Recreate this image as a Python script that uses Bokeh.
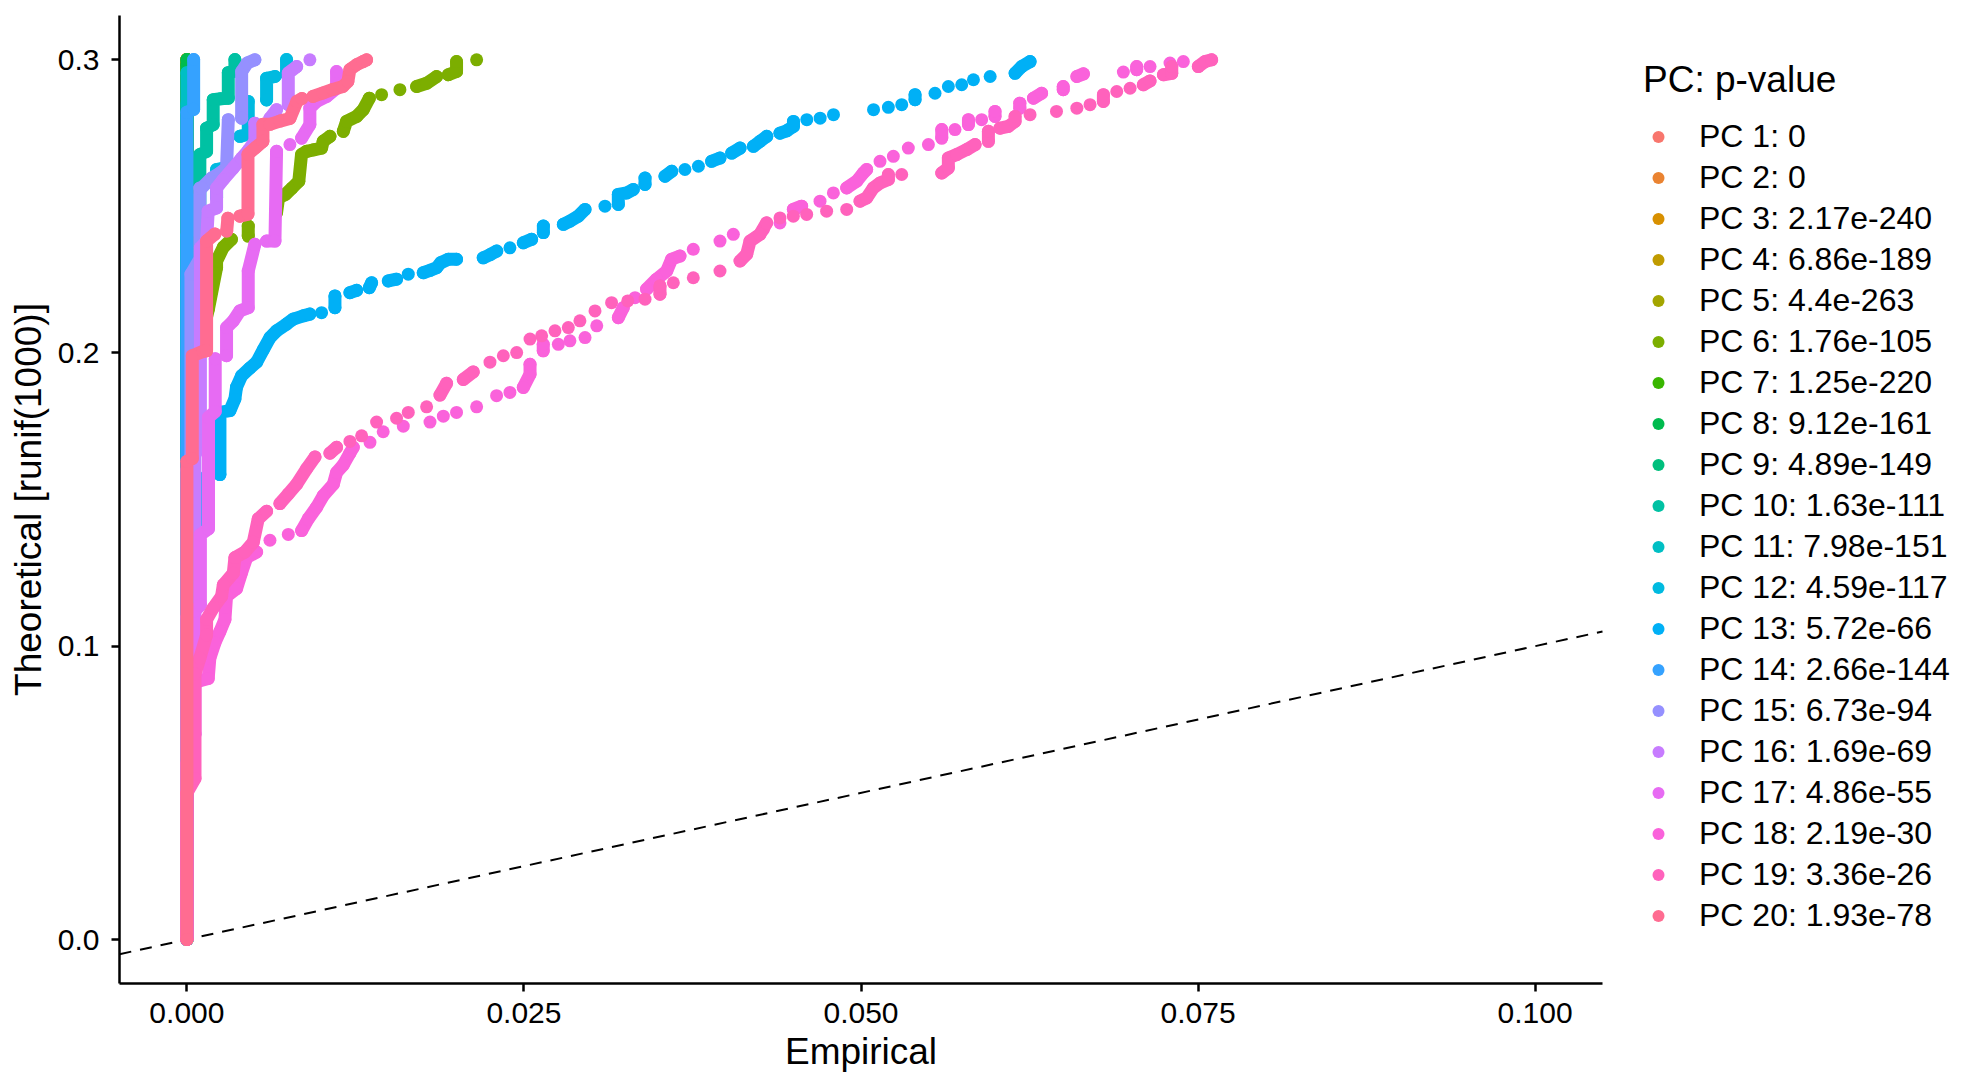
from bokeh.plotting import figure
from bokeh.models import FixedTicker, PrintfTickFormatter, Legend, LegendItem, Title
from bokeh.embed import file_html
from bokeh.resources import INLINE

FONT = "Liberation Sans"

# ---------------- data ----------------
X_LIM = (-0.005, 0.105)
Y_LIM = (-0.015, 0.315)
X_TICKS = [0.0, 0.025, 0.05, 0.075, 0.1]
Y_TICKS = [0.0, 0.1, 0.2, 0.3]
ABLINE_SLOPE = 1.0
ABLINE_INTERCEPT = 0.0

PC_LABELS = ["PC 1: 0", "PC 2: 0", "PC 3: 2.17e-240", "PC 4: 6.86e-189", "PC 5: 4.4e-263",
             "PC 6: 1.76e-105", "PC 7: 1.25e-220", "PC 8: 9.12e-161", "PC 9: 4.89e-149",
             "PC 10: 1.63e-111", "PC 11: 7.98e-151", "PC 12: 4.59e-117", "PC 13: 5.72e-66",
             "PC 14: 2.66e-144", "PC 15: 6.73e-94", "PC 16: 1.69e-69", "PC 17: 4.86e-55",
             "PC 18: 2.19e-30", "PC 19: 3.36e-26", "PC 20: 1.93e-78"]

PC_COLORS = ["#F8766D", "#EA8331", "#D89000", "#C09B00", "#A3A500", "#7CAE00", "#39B600",
             "#00BB4E", "#00BF7D", "#00C1A3", "#00BFC4", "#00BAE0", "#00B0F6", "#35A2FF",
             "#9590FF", "#C77CFF", "#E76BF3", "#FA62DB", "#FF62BC", "#FF6C91"]

# (empirical, theoretical) points of each PC
PC1 = [(0.0, 0.0), (0.0, 0.3)]
PC2 = [(0.0, 0.0), (0.0, 0.3)]
PC3 = [(0.0, 0.0), (0.0, 0.3)]
PC4 = [(0.0, 0.0), (0.0, 0.3)]
PC5 = [(0.0, 0.0), (0.0, 0.3)]
PC6 = [(0.0, 0.0), (0.0, 0.19), (0.0008, 0.20), (0.0016, 0.215), (0.0022, 0.229), (0.0022, 0.2313),
       (0.0027, 0.236), (0.0033, 0.2387), (0.00455, 0.2398), (0.00455, 0.2432), (0.00665, 0.2478),
       (0.0068, 0.2528), (0.0073, 0.254), (0.0078, 0.2562), (0.0083, 0.2585), (0.0085, 0.2676),
       (0.00888, 0.2687), (0.0094, 0.2692), (0.00999, 0.2698), (0.01011, 0.2721), (0.01061, 0.2738),
       (0.0116, 0.2755), (0.01184, 0.2789), (0.01259, 0.2806), (0.01308, 0.2829), (0.01353, 0.2868),
       (0.01444, 0.2880), (0.0158, 0.2897), (0.01704, 0.2908), (0.01778, 0.2919), (0.01852, 0.2942),
       (0.01939, 0.2948), (0.0200, 0.2959), (0.0200, 0.2993), (0.02149, 0.2999)]
PC7 = [(0.0, 0.0), (0.0, 0.298)]
PC8 = [(0.0, 0.0), (0.0, 0.3)]
PC9 = [(0.0, 0.0), (0.0, 0.285)]
PC10 = [(0.0, 0.0), (0.0, 0.24), (0.00096, 0.245), (0.00096, 0.2676), (0.00146, 0.2687),
        (0.00146, 0.2766), (0.00195, 0.2778), (0.00195, 0.2863), (0.0025, 0.2866), (0.00307, 0.2868),
        (0.00307, 0.2955), (0.00356, 0.296), (0.00356, 0.3)]
PC11 = [(0.0, 0.0), (0.0, 0.2955)]
PC12 = [(0.0, 0.0), (0.0, 0.24), (0.0005, 0.245), (0.0005, 0.252), (0.0022, 0.253), (0.0022, 0.2625),
        (0.0027, 0.263), (0.00393, 0.2738), (0.00455, 0.2745), (0.00455, 0.2857), (0.00591, 0.2862),
        (0.00591, 0.2936), (0.00653, 0.2942), (0.00739, 0.295), (0.00739, 0.3)]
PC13 = [(0.0, 0.0), (0.0, 0.12), (0.0007, 0.13), (0.0007, 0.158), (0.0016, 0.1585), (0.00245, 0.1585),
        (0.00245, 0.1797), (0.00319, 0.1803), (0.00356, 0.1843), (0.00368, 0.1883), (0.00406, 0.1922),
        (0.00467, 0.1948), (0.00517, 0.1968), (0.00566, 0.2010), (0.00616, 0.2052), (0.00665, 0.2075),
        (0.00739, 0.2098), (0.00789, 0.2115), (0.00863, 0.2126), (0.00912, 0.2132), (0.00999, 0.2137),
        (0.01098, 0.2154), (0.01098, 0.2194), (0.01209, 0.2205), (0.01259, 0.2213), (0.01353, 0.2222),
        (0.0137, 0.2239), (0.01494, 0.2245), (0.01555, 0.2251), (0.01642, 0.2268), (0.01753, 0.2273),
        (0.01803, 0.2281), (0.01852, 0.2290), (0.01882, 0.2307), (0.01939, 0.2319), (0.0200, 0.2319),
        (0.02198, 0.2324), (0.0225, 0.2335), (0.02298, 0.2347), (0.02396, 0.2358), (0.02495, 0.2375),
        (0.02557, 0.2387), (0.02644, 0.2410), (0.02644, 0.2432), (0.02792, 0.2438), (0.02841, 0.2449),
        (0.02903, 0.2466), (0.02953, 0.2489), (0.03101, 0.2500), (0.032, 0.2506), (0.032, 0.2540),
        (0.03262, 0.2545), (0.03311, 0.2557), (0.03398, 0.2574), (0.03398, 0.2596), (0.03546, 0.2602),
        (0.03596, 0.2619), (0.03694, 0.2625), (0.03794, 0.2636), (0.03892, 0.2653), (0.03954, 0.2664),
        (0.04041, 0.2681), (0.04103, 0.2698), (0.04202, 0.2704), (0.04251, 0.2721), (0.04301, 0.2738),
        (0.04399, 0.2749), (0.04449, 0.2757), (0.04499, 0.2772), (0.04499, 0.2789), (0.04598, 0.2795),
        (0.04697, 0.2800), (0.04796, 0.2812), (0.05093, 0.2829), (0.05203, 0.2837), (0.05302, 0.2846),
        (0.05401, 0.2863), (0.05401, 0.2880), (0.05549, 0.2885), (0.05648, 0.2908), (0.05747, 0.2914),
        (0.05834, 0.2931), (0.05958, 0.2942), (0.06143, 0.2953), (0.06192, 0.2976), (0.06254, 0.2993)]
PC14 = [(0.0, 0.0), (0.0, 0.282), (0.0005, 0.283), (0.0005, 0.3)]
PC15 = [(0.0, 0.0), (0.0, 0.16), (0.0003, 0.165), (0.0003, 0.2268), (0.00096, 0.232), (0.00096, 0.2562),
        (0.00109, 0.2562), (0.00183, 0.2596), (0.00245, 0.2613), (0.00294, 0.263), (0.00307, 0.2795),
        (0.00406, 0.28), (0.00406, 0.2959), (0.00448, 0.2988), (0.00504, 0.2999)]
PC16 = [(0.0, 0.0), (0.0, 0.11), (0.0006, 0.115), (0.0006, 0.165), (0.001, 0.17), (0.001, 0.2358),
        (0.00146, 0.2381), (0.00158, 0.2483), (0.0022, 0.2494), (0.0022, 0.2562), (0.0027, 0.2591),
        (0.00344, 0.263), (0.00406, 0.2664), (0.00455, 0.2690), (0.00504, 0.2721), (0.00504, 0.2783),
        (0.00616, 0.28), (0.00665, 0.2829), (0.00752, 0.2846), (0.00752, 0.2954), (0.00814, 0.2976),
        (0.00912, 0.2999)]
PC17 = [(0.0, 0.0), (0.0, 0.06), (0.0006, 0.07), (0.0006, 0.112), (0.001, 0.114), (0.001, 0.138),
        (0.0016, 0.14), (0.0016, 0.178), (0.0021, 0.18), (0.0021, 0.198), (0.00294, 0.199),
        (0.00294, 0.2086), (0.00344, 0.2109), (0.00393, 0.2143), (0.00455, 0.2154), (0.00455, 0.2279),
        (0.00504, 0.237), (0.00591, 0.2381), (0.00653, 0.2381), (0.00665, 0.2687), (0.00764, 0.271),
        (0.00851, 0.2732), (0.00912, 0.2778), (0.00912, 0.2834), (0.00962, 0.2857), (0.01036, 0.2874),
        (0.0111, 0.2902), (0.0111, 0.2959)]
PC18 = [(0.0, 0.0), (0.0, 0.05), (0.00047, 0.0564), (0.00047, 0.0880), (0.00084, 0.0880), (0.00158, 0.0890),
        (0.0017, 0.0959), (0.00208, 0.1012), (0.00245, 0.1050), (0.00282, 0.1091), (0.00294, 0.1170),
        (0.00368, 0.1196), (0.00405, 0.1250), (0.00443, 0.1302), (0.00517, 0.1321), (0.00616, 0.1361),
        (0.00752, 0.1381), (0.00851, 0.1394), (0.009, 0.1434), (0.00962, 0.1474), (0.01011, 0.1513),
        (0.01086, 0.1552), (0.0111, 0.1592), (0.0116, 0.1618), (0.01209, 0.1658), (0.01234, 0.1678),
        (0.01358, 0.1695), (0.01456, 0.1731), (0.01605, 0.1750), (0.01803, 0.1764), (0.01902, 0.1784),
        (0.0200, 0.1797), (0.02149, 0.1816), (0.02297, 0.1854), (0.02396, 0.1865), (0.02495, 0.1882),
        (0.02545, 0.1927), (0.02545, 0.1961), (0.02643, 0.2007), (0.02643, 0.2029), (0.02755, 0.2029),
        (0.02841, 0.2041), (0.02953, 0.2052), (0.0304, 0.2092), (0.032, 0.2120), (0.03237, 0.2154),
        (0.03324, 0.2188), (0.0341, 0.2217), (0.03484, 0.2251), (0.03559, 0.2279), (0.03595, 0.2319),
        (0.03657, 0.2330), (0.03756, 0.2353), (0.03954, 0.2381), (0.04053, 0.2404), (0.04276, 0.2421),
        (0.04399, 0.2443), (0.04498, 0.2489), (0.0456, 0.2500), (0.04696, 0.2517), (0.04795, 0.2545),
        (0.04894, 0.2562), (0.04968, 0.2585), (0.05017, 0.2613), (0.05042, 0.2625), (0.05141, 0.2653),
        (0.0524, 0.2670), (0.05351, 0.2698), (0.055, 0.2710), (0.05599, 0.2732), (0.05599, 0.2761),
        (0.05697, 0.2761), (0.05797, 0.2778), (0.05797, 0.2795), (0.05895, 0.2795), (0.05994, 0.2806),
        (0.05994, 0.2823), (0.06178, 0.2834), (0.06178, 0.2851), (0.06279, 0.2868), (0.0634, 0.2885),
        (0.065, 0.2897), (0.065, 0.2908), (0.06601, 0.2942), (0.0665, 0.2951), (0.06946, 0.2957),
        (0.07045, 0.2965), (0.07045, 0.2976), (0.07144, 0.2976), (0.07292, 0.2988), (0.07391, 0.2993)]
PC19 = [(0.0, 0.0), (0.0, 0.05), (0.0006, 0.0549), (0.0006, 0.0906), (0.00096, 0.0959), (0.00146, 0.1038),
        (0.00146, 0.1091), (0.00195, 0.1130), (0.00257, 0.1170), (0.0027, 0.1209), (0.00344, 0.1249),
        (0.00356, 0.1302), (0.0043, 0.1321), (0.00492, 0.1354), (0.00529, 0.1434), (0.00591, 0.1460),
        (0.0069, 0.1486), (0.00752, 0.1519), (0.00814, 0.1552), (0.00888, 0.1605), (0.0095, 0.1645),
        (0.01061, 0.1658), (0.0111, 0.1678), (0.01209, 0.1698), (0.01296, 0.1717), (0.01407, 0.1764),
        (0.01555, 0.1777), (0.01642, 0.1797), (0.01778, 0.1816), (0.01877, 0.1856), (0.01926, 0.1896),
        (0.0205, 0.1909), (0.02124, 0.1935), (0.02248, 0.1968), (0.02347, 0.1990), (0.02446, 0.2001),
        (0.02545, 0.2047), (0.02631, 0.2058), (0.0273, 0.2075), (0.02829, 0.2086), (0.02915, 0.2109),
        (0.03027, 0.2143), (0.0315, 0.2171), (0.0327, 0.2177), (0.03398, 0.2183), (0.03509, 0.2200),
        (0.03509, 0.2228), (0.03608, 0.2239), (0.03756, 0.2256), (0.03954, 0.2279), (0.04103, 0.2313),
        (0.04152, 0.2336), (0.04177, 0.2381), (0.0425, 0.2404), (0.043, 0.2443), (0.04399, 0.2460),
        (0.04498, 0.2466), (0.04597, 0.2472), (0.04745, 0.2483), (0.04894, 0.2489), (0.04993, 0.2517),
        (0.05042, 0.2528), (0.05091, 0.2562), (0.05141, 0.2579), (0.05203, 0.2591), (0.05203, 0.2608),
        (0.05302, 0.2608), (0.05599, 0.2613), (0.05648, 0.2630), (0.05648, 0.2664), (0.0571, 0.2676),
        (0.05784, 0.2693), (0.05846, 0.2710), (0.05945, 0.2721), (0.05945, 0.2755), (0.06031, 0.2766),
        (0.06093, 0.2772), (0.06143, 0.2789), (0.06143, 0.2806), (0.06254, 0.2812), (0.0645, 0.2823),
        (0.06601, 0.2834), (0.06699, 0.2846), (0.06798, 0.2857), (0.06798, 0.2880), (0.06897, 0.2891),
        (0.06996, 0.2902), (0.07094, 0.2914), (0.07144, 0.2927), (0.07243, 0.2948), (0.07305, 0.2953),
        (0.07305, 0.2976), (0.07502, 0.2976), (0.07552, 0.2993), (0.07601, 0.2999)]
PC20 = [(0.0, 0.0), (0.0, 0.163), (0.0004, 0.164), (0.0004, 0.199), (0.0012, 0.2005), (0.00146, 0.2007),
        (0.00146, 0.2381), (0.00208, 0.2405), (0.00295, 0.2415), (0.00304, 0.2459), (0.00393, 0.2466),
        (0.00453, 0.2473), (0.00453, 0.2677), (0.0051, 0.270), (0.00564, 0.2721), (0.00564, 0.2779),
        (0.00616, 0.2779), (0.0069, 0.279), (0.00764, 0.2799), (0.00816, 0.2857), (0.00853, 0.2867),
        (0.00935, 0.2874), (0.0101, 0.2886), (0.01083, 0.2898), (0.01157, 0.2908), (0.01194, 0.2925),
        (0.01209, 0.2966), (0.01261, 0.2983), (0.01306, 0.2993), (0.01333, 0.2999)]

SERIES = [PC1, PC2, PC3, PC4, PC5, PC6, PC7, PC8, PC9, PC10,
          PC11, PC12, PC13, PC14, PC15, PC16, PC17, PC18, PC19, PC20]

# ---------------- layout ----------------
W, H = 1970, 1074
LEFT, TOP, BOTTOM = 119, 15, 90
PANEL_W = 1483                      # width of the ggplot panel (x from X_LIM[0] to X_LIM[1])
px_per_x = PANEL_W / (X_LIM[1] - X_LIM[0])
x_end = X_LIM[0] + (W - LEFT) / px_per_x   # frame continues to the right edge for the legend

p = figure(width=W, height=H, x_range=(X_LIM[0], x_end), y_range=Y_LIM,
           output_backend="svg", toolbar_location=None,
           min_border_left=LEFT, min_border_right=0, min_border_top=TOP, min_border_bottom=BOTTOM)
p.xgrid.visible = False
p.ygrid.visible = False
p.outline_line_color = None
p.background_fill_color = "white"
p.border_fill_color = "white"

for ax in (p.xaxis[0], p.yaxis[0]):
    ax.axis_line_width = 2.5
    ax.axis_line_color = "black"
    ax.major_tick_line_width = 2.5
    ax.major_tick_line_color = "black"
    ax.major_tick_out = 8
    ax.major_tick_in = 0
    ax.minor_tick_out = 0
    ax.minor_tick_in = 0
    ax.major_label_text_font = FONT
    ax.major_label_text_font_size = "30px"
    ax.major_label_text_color = "black"
    ax.axis_label_text_font = FONT
    ax.axis_label_text_font_size = "37px"
    ax.axis_label_text_font_style = "normal"
    ax.axis_label_text_color = "black"

p.xaxis.bounds = X_LIM
p.xaxis.ticker = FixedTicker(ticks=X_TICKS)
p.yaxis.ticker = FixedTicker(ticks=Y_TICKS)
p.xaxis.formatter = PrintfTickFormatter(format="%.3f")
p.yaxis.formatter = PrintfTickFormatter(format="%.1f")
p.yaxis.axis_label = "Theoretical [runif(1000)]"
p.xaxis.major_label_standoff = 11
p.yaxis.major_label_standoff = 12
p.yaxis.axis_label_standoff = 6

# x-axis title, centred under the panel (not under the wider frame that also holds the legend)
XTITLE_SIZE = 37
xtitle_w = 4.111 * XTITLE_SIZE            # width of "Empirical" in Liberation Sans
xtitle = Title(text="Empirical", align="left", offset=PANEL_W / 2 - xtitle_w / 2,
               text_font=FONT, text_font_size=f"{XTITLE_SIZE}px", text_font_style="normal",
               text_color="black", standoff=6)
p.add_layout(xtitle, "below")

# dashed y = x reference line across the panel
ab_x = list(X_LIM)
ab_y = [ABLINE_INTERCEPT + ABLINE_SLOPE * v for v in ab_x]
p.line(ab_x, ab_y, line_color="black", line_width=2, line_dash="12 9")

GAP = 0.0008  # consecutive points closer than this horizontally overlap into a continuous stroke
DOT = 13

items = []
for pts, col, lab in zip(SERIES, PC_COLORS, PC_LABELS):
    xs = [a for a, b in pts]
    ys = [b for a, b in pts]
    runs_x, runs_y = [], []
    cur_x, cur_y = [xs[0]], [ys[0]]
    for i in range(1, len(xs)):
        if abs(xs[i] - xs[i - 1]) <= GAP:
            cur_x.append(xs[i]); cur_y.append(ys[i])
        else:
            if len(cur_x) > 1:
                runs_x.append(cur_x); runs_y.append(cur_y)
            cur_x, cur_y = [xs[i]], [ys[i]]
    if len(cur_x) > 1:
        runs_x.append(cur_x); runs_y.append(cur_y)
    if runs_x:
        p.multi_line(runs_x, runs_y, line_color=col, line_width=DOT,
                     line_cap="round", line_join="round")
    r = p.scatter(xs, ys, size=DOT, fill_color=col, line_color=None, marker="circle")
    items.append(LegendItem(label=lab, renderers=[r]))

legend = Legend(items=items, location=(1524, 47), title="PC: p-value",
                title_text_font=FONT, title_text_font_size="37px", title_text_font_style="normal",
                title_text_color="black", title_standoff=15,
                label_text_font=FONT, label_text_font_size="32px", label_text_color="black",
                glyph_width=30, glyph_height=41, label_height=41, label_standoff=26,
                spacing=0, padding=0, margin=0,
                border_line_alpha=0, background_fill_alpha=0)
p.add_layout(legend)

open("out.html", "w").write(file_html(p, INLINE))
